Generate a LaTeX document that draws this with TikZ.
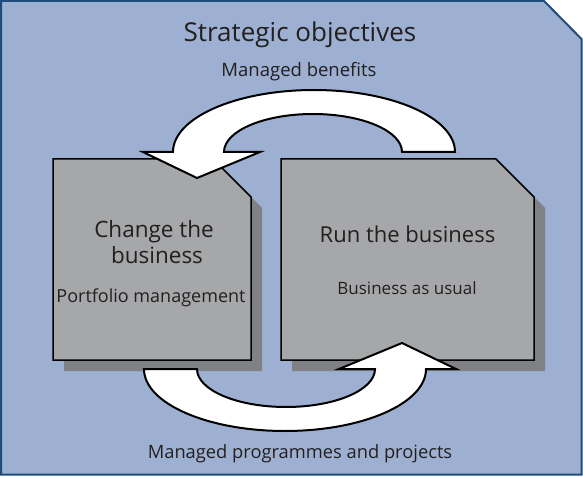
\documentclass[tikz,border=0pt]{standalone}
\usepackage{fontspec}
\setmainfont{Open Sans}
\definecolor{framefill}{HTML}{9DB0D2}
\definecolor{frameline}{HTML}{1E4D7B}
\definecolor{boxgray}{HTML}{A6A7A9}
\definecolor{shadowgray}{HTML}{808184}
\definecolor{txt}{HTML}{231F20}
\begin{document}
\begin{tikzpicture}[x=1pt,y=1pt,
  frame/.style={draw=frameline,line width=2pt,fill=framefill},
  box/.style={draw=black,line width=1.5pt,fill=boxgray},
  boxshadow/.style={fill=shadowgray},
  looparrow/.style={draw=black,line width=2pt,fill=white,line join=miter},
  lbl/.style={text=txt,inner sep=0pt,anchor=base}]
\useasboundingbox (0,0) rectangle (583,477);
% outer frame with cut corner
\draw[frame] (1,476) -- (544,476) -- (581.5,438) -- (581.5,2.5) -- (1,2.5) -- cycle;
% the two boxes with their shadows
\foreach \l/\r in {53/251,281/534}{
  \fill[boxshadow,shift={(11,-11)}] (\l,318) -- ({\r-38},318) -- (\r,280) -- (\r,117) -- (\l,117) -- cycle;
  \draw[box] (\l,318) -- ({\r-38},318) -- (\r,280) -- (\r,117) -- (\l,117) -- cycle;}
% curved block arrows, the lower one is the upper one turned round
\foreach \a in {0,180}{
  \draw[looparrow,rotate around={\a:(299.5,216.5)}] (455,325) arc[start angle=0,end angle=180,x radius=141,y radius=62]
    -- (143,325) -- (197,299) -- (260,325) -- (224,325)
    arc[start angle=180,end angle=0,x radius=89,y radius=38] -- cycle;}
% texts
\node[lbl,font=\fontsize{26}{30}\selectfont] (title) at (300,435) {Strategic objectives};
\node[lbl,font=\fontsize{18.5}{22}\selectfont] (benefits) at (299,400) {Managed benefits};
\node[lbl,font=\fontsize{22.5}{26}\selectfont] (change) at (154,240) {Change the};
\node[lbl,font=\fontsize{22.5}{26}\selectfont] (changeb) at (157,214) {business};
\node[lbl,font=\fontsize{18}{21}\selectfont] (portfolio) at (151,175) {Portfolio management};
\node[lbl,font=\fontsize{22}{26}\selectfont] (run) at (407.5,234) {Run the business};
\node[lbl,font=\fontsize{17}{20}\selectfont] (usual) at (407,183) {Business as usual};
\node[lbl,font=\fontsize{18.3}{21}\selectfont] (projects) at (300,19) {Managed programmes and projects};
\end{tikzpicture}
\end{document}
